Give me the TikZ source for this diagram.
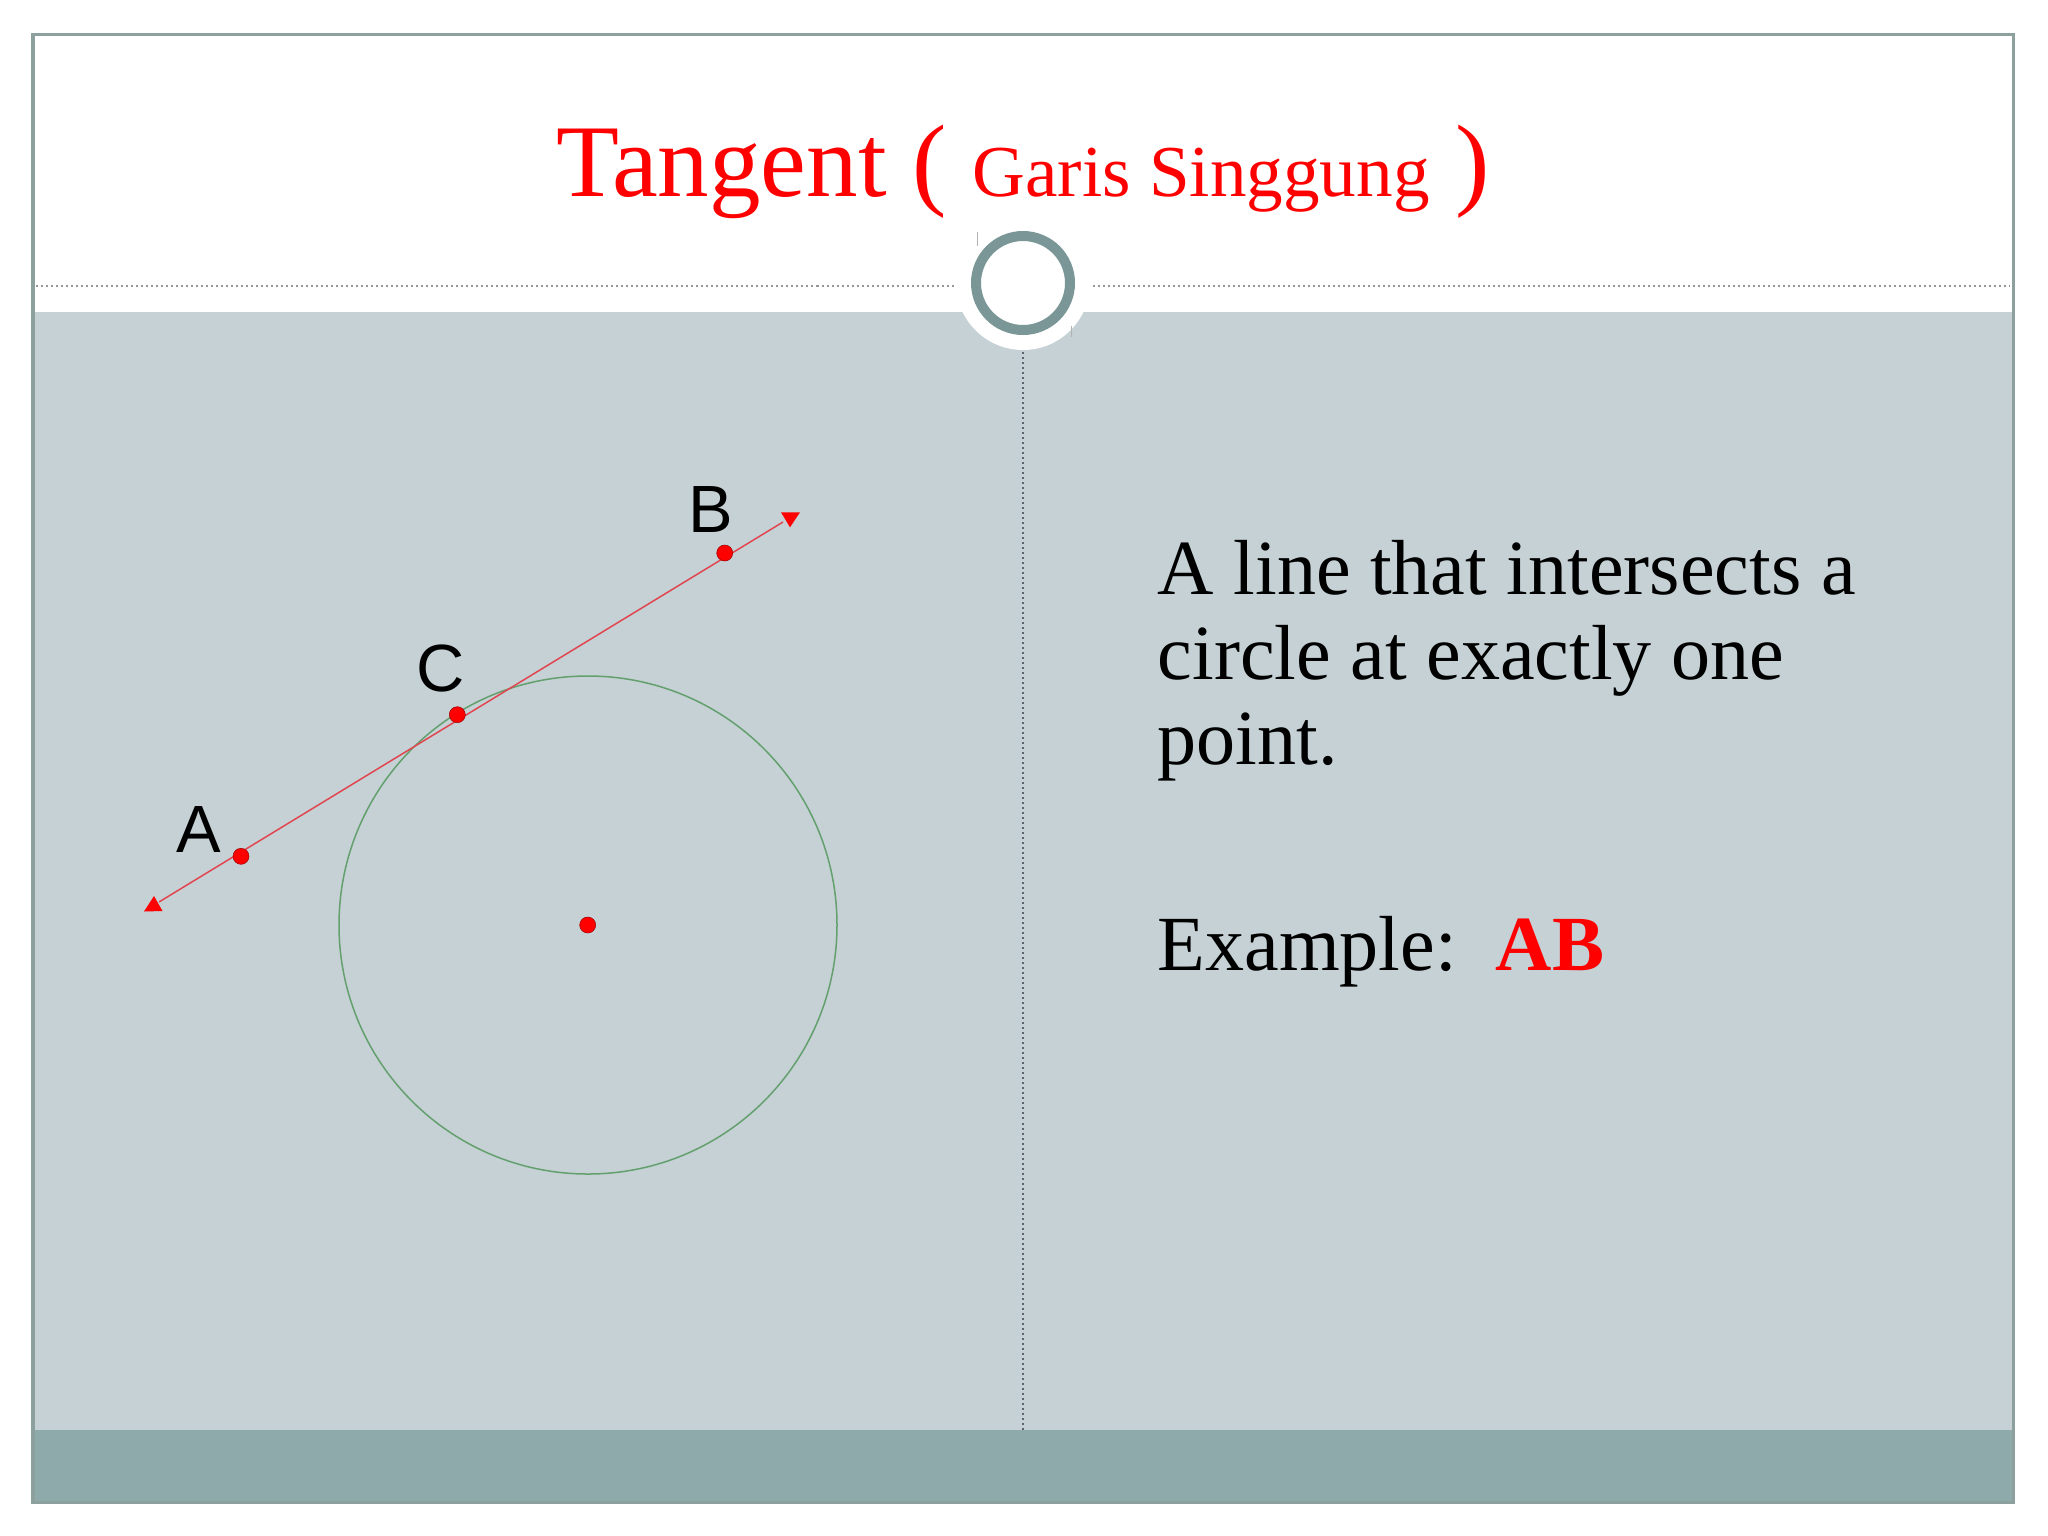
\documentclass[tikz,border=0pt]{standalone}
\usepackage{fontspec}
\setmainfont{Liberation Serif}
\newfontfamily\labelfont{Liberation Sans}
\usetikzlibrary{calc}
\definecolor{panel}{RGB}{197,209,213}
\definecolor{footer}{RGB}{143,170,171}
\definecolor{framec}{RGB}{140,160,158}
\definecolor{ringc}{RGB}{122,150,150}
\definecolor{dotc}{RGB}{150,150,150}
\definecolor{vdot}{RGB}{95,100,110}
\definecolor{circc}{RGB}{100,160,110}
\definecolor{linec}{RGB}{225,70,80}
\begin{document}
\begin{tikzpicture}[x=0.01cm,y=-0.01cm,
  pt/.style={circle,fill=red,draw=red!60!black,line width=0.005cm,minimum size=0.16cm,inner sep=0pt},
  ptlabel/.style={font=\labelfont\fontsize{19}{19}\selectfont,anchor=base,inner sep=0pt,text=black},
  body/.style={font=\fontsize{22.2}{24.2}\selectfont,anchor=base west,inner sep=0pt,text=black},
  dotline/.style={dotc,line width=0.02cm,dash pattern=on 0.02cm off 0.03cm},
  vdotline/.style={vdot,line width=0.02cm,dash pattern=on 0.02cm off 0.03cm},
  tick/.style={gray!60,line width=0.006cm}
]
\useasboundingbox (0,0) rectangle (2048,1536);
\fill[white] (0,0) rectangle (2048,1536);
% panels
\fill[panel] (33,312) rectangle (2013,1430);
\fill[footer] (33,1430) rectangle (2013,1502);
\draw[framec,line width=0.03cm] (33,34) rectangle (2013,1502);
% dotted separators
\draw[dotline] (36,286) -- (955,286);
\draw[dotline] (1093,286) -- (2010,286);
\draw[vdotline] (1023,352) -- (1023,1430);
% ring ornament
\fill[white] (1023,283) circle (67);
\draw[ringc,line width=0.1cm] (1023,283) circle (47);
\draw[tick] (977,232) -- (977,246);
\draw[tick] (1071,326) -- (1071,337);
% title
\node[anchor=base,inner sep=0pt,text=red] (title) at (1023,196)
  {\fontsize{29.3}{30}\selectfont Tangent ( {\fontsize{20.8}{22}\selectfont Garis Singgung} )};
% circle
\draw[circc,line width=0.015cm] (588,925) circle (249);
% tangent line
\coordinate (L) at (159,902);
\coordinate (R) at (783,522);
\draw[linec,line width=0.015cm] (L) -- (R);
\fill[red] (144,911.5) -- (162.5,911) -- (154,896) -- cycle;
\fill[red] (781,512.3) -- (800,512.3) -- (790,527.3) -- cycle;
% points
\node[pt] (A) at (241,856.3) {};
\node[pt] (C) at (457.3,714.7) {};
\node[pt] (B) at (724.7,553) {};
\node[pt] (O) at (587.7,925) {};
\node[ptlabel] (lA) at (199,852) {A};
\node[ptlabel] (lB) at (711,532) {B};
\node[ptlabel] (lC) at (441,691) {C};
% text
\node[body] (l1) at (1157,594) {A line that intersects a};
\node[body] (l2) at (1157,679) {circle at exactly one};
\node[body] (l3) at (1157,764) {point.};
\node[body] (ex) at (1157,970) {Example:\ \ {\color{red}\bfseries AB}};
\end{tikzpicture}
\end{document}
